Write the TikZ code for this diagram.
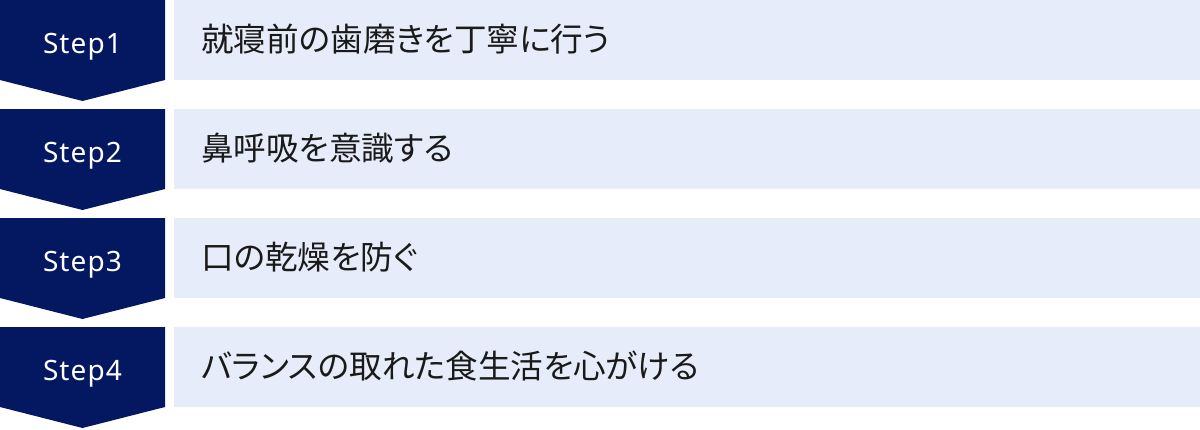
\documentclass[tikz,border=0pt]{standalone}
\usepackage{fontspec}
\setmainfont{Noto Sans}
\newfontfamily\jpfont[RawFeature=+palt]{Noto Sans CJK JP}
\definecolor{navy}{HTML}{041861}
\definecolor{pale}{HTML}{E6ECF9}
\definecolor{ink}{HTML}{1A1A1A}
\begin{document}
\begin{tikzpicture}[x=1pt,y=-1pt,
  stepshape/.style={fill=navy},
  labelbox/.style={fill=pale},
  steptext/.style={text=white,font=\fontsize{28}{28}\selectfont,anchor=base,inner sep=0pt},
  desctext/.style={text=ink,font=\jpfont\fontsize{32.6}{32.6}\selectfont,anchor=west,inner sep=0pt}]
\useasboundingbox (0,0) rectangle (1200,429);
\foreach \i/\t in {0/就寝前の歯磨きを丁寧に行う,1/鼻呼吸を意識する,2/口の乾燥を防ぐ,3/バランスの取れた食生活を心がける}{
  \pgfmathsetmacro{\y}{\i*109}
  \fill[stepshape] (0,\y) -- (165,\y) -- (165,\y+80) -- (82.5,\y+101) -- (0,\y+80) -- cycle;
  \fill[labelbox] (174,\y) rectangle (1200,\y+80);
  \pgfmathtruncatemacro{\n}{\i+1}
  \node[steptext] (s\n) at (82.5,\y+53) {\addfontfeatures{LetterSpace=4}Step\n};
  \node[desctext] (d\n) at (201,\y+39.5) {\t};
}
\end{tikzpicture}
\end{document}
